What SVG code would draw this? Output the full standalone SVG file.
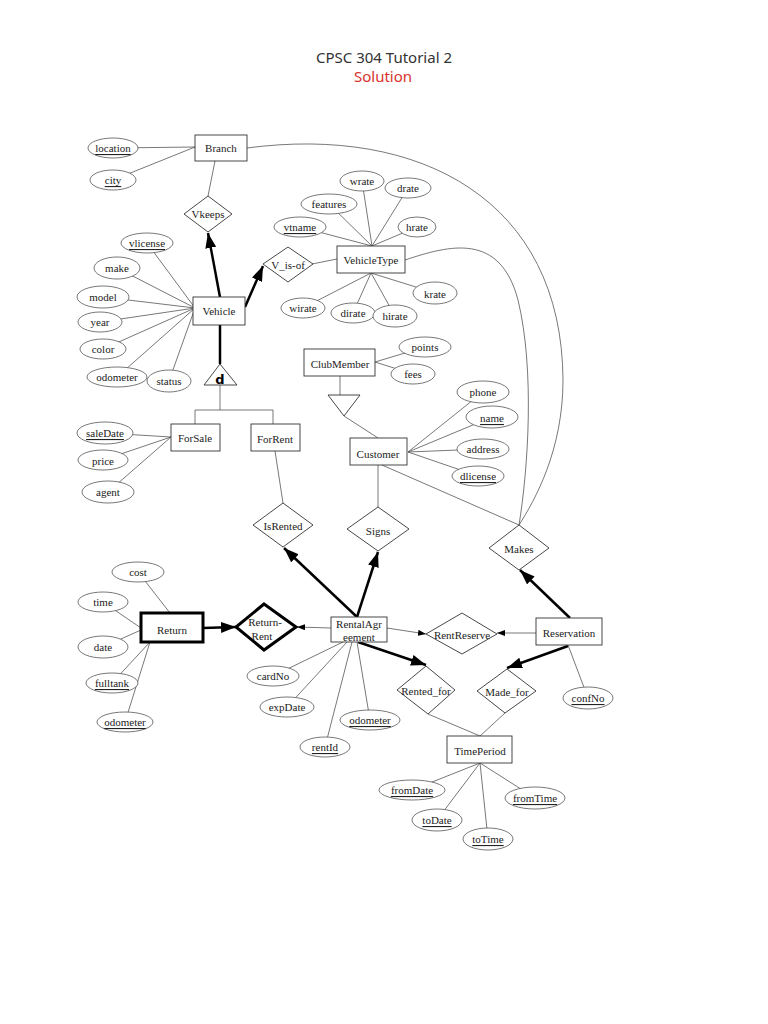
<svg xmlns="http://www.w3.org/2000/svg" width="768" height="1024" viewBox="0 0 768 1024">
<style>
.t{font-family:"Liberation Serif","Times New Roman",serif;font-size:11px;fill:#222;text-anchor:middle;dominant-baseline:central}
.u{text-decoration:underline}
.a{fill:#fff;stroke:#555;stroke-width:0.8}
.e{fill:#fff;stroke:#333;stroke-width:0.9}
.w{fill:#fff;stroke:#000;stroke-width:3}
.l{stroke:#555;stroke-width:0.8;fill:none}
.k{stroke:#000;stroke-width:2.5;fill:none}
.s{stroke:#555;stroke-width:0.8;fill:none}
</style>
<defs>
<marker id="big" markerUnits="userSpaceOnUse" markerWidth="15" markerHeight="11" refX="15" refY="5.5" orient="auto"><path d="M0,0 L15,5.5 L0,11 z" fill="#000"/></marker>
<marker id="sm" markerUnits="userSpaceOnUse" markerWidth="8" markerHeight="6" refX="8" refY="3" orient="auto"><path d="M0,0 L8,3 L0,6 z" fill="#000"/></marker>
</defs>
<rect width="768" height="1024" fill="#fff"/>
<text x="384" y="57" style="font-family:'Noto Sans','Open Sans',sans-serif;font-size:15px;fill:#333;text-anchor:middle;dominant-baseline:central">CPSC 304 Tutorial 2</text>
<text x="383" y="76" style="font-family:'Noto Sans','Open Sans',sans-serif;font-size:15px;fill:#d9322c;text-anchor:middle;dominant-baseline:central">Solution</text>

<g id="connectors">
<!-- Branch -->
<line class="l" x1="113" y1="148" x2="195" y2="147"/>
<line class="l" x1="113" y1="180" x2="195" y2="147"/>
<line class="l" x1="215" y1="161" x2="208" y2="196"/>
<path class="l" d="M247,148 C420,125 562,200 563,380 C563,450 535,500 519,525"/>
<path class="l" d="M405,260 C450,245 500,232 518,300 C535,370 528,470 519,525"/>
<!-- Vehicle attrs -->
<line class="l" x1="147" y1="243" x2="195" y2="308"/>
<line class="l" x1="117" y1="268" x2="195" y2="308"/>
<line class="l" x1="103" y1="297" x2="195" y2="308"/>
<line class="l" x1="100" y1="322" x2="195" y2="308"/>
<line class="l" x1="103" y1="349" x2="195" y2="308"/>
<line class="l" x1="117" y1="377" x2="195" y2="308"/>
<line class="l" x1="169" y1="381" x2="195" y2="308"/>
<line class="k" x1="220" y1="297" x2="208" y2="233" marker-end="url(#big)"/>
<line class="k" x1="245" y1="307" x2="263" y2="266" marker-end="url(#big)"/>
<line class="l" x1="312" y1="264" x2="337" y2="259"/>
<!-- VehicleType attrs -->
<line class="l" x1="362" y1="181" x2="372" y2="246"/>
<line class="l" x1="408" y1="188" x2="372" y2="246"/>
<line class="l" x1="329" y1="204" x2="372" y2="246"/>
<line class="l" x1="300" y1="227" x2="372" y2="246"/>
<line class="l" x1="417" y1="227" x2="372" y2="246"/>
<line class="l" x1="435" y1="293" x2="371" y2="273"/>
<line class="l" x1="303" y1="308" x2="371" y2="273"/>
<line class="l" x1="353" y1="313" x2="371" y2="273"/>
<line class="l" x1="395" y1="316" x2="371" y2="273"/>
<!-- specialization -->
<line class="k" x1="220" y1="325" x2="220" y2="364"/>
<polyline class="l" points="220,385 220,410"/>
<polyline class="l" points="195,424 195,410 273,410 273,424"/>
<!-- ForSale attrs -->
<line class="l" x1="105" y1="433" x2="171" y2="437"/>
<line class="l" x1="103" y1="460" x2="171" y2="437"/>
<line class="l" x1="108" y1="492" x2="171" y2="437"/>
<line class="l" x1="275" y1="451" x2="283" y2="503"/>
<!-- ClubMember -->
<line class="l" x1="425" y1="347" x2="375" y2="362"/>
<line class="l" x1="413" y1="374" x2="375" y2="362"/>
<line class="l" x1="340" y1="376" x2="340" y2="395"/>
<line class="l" x1="344" y1="416" x2="378" y2="438"/>
<!-- Customer attrs -->
<line class="l" x1="483" y1="392" x2="408" y2="452"/>
<line class="l" x1="492" y1="417" x2="408" y2="452"/>
<line class="l" x1="483" y1="449" x2="408" y2="452"/>
<line class="l" x1="478" y1="476" x2="408" y2="452"/>
<line class="l" x1="378" y1="465" x2="378" y2="507"/>
<line class="l" x1="382" y1="465" x2="519" y2="525"/>
<!-- RentalAgreement -->
<line class="k" x1="357" y1="617" x2="284" y2="548" marker-end="url(#big)"/>
<line class="k" x1="357" y1="617" x2="378" y2="552" marker-end="url(#big)"/>
<line class="k" x1="570" y1="618" x2="520" y2="570" marker-end="url(#big)"/>
<line class="k" x1="358" y1="642" x2="426" y2="665" marker-end="url(#big)"/>
<line class="k" x1="568" y1="646" x2="507" y2="668" marker-end="url(#big)"/>
<line class="k" x1="203" y1="628" x2="236" y2="627" marker-end="url(#big)"/>
<line class="s" x1="331" y1="628" x2="297" y2="627" marker-end="url(#sm)"/>
<line class="s" x1="387" y1="628" x2="426" y2="634" marker-end="url(#sm)"/>
<line class="s" x1="536" y1="633" x2="497" y2="633" marker-end="url(#sm)"/>
<!-- Return attrs -->
<line class="l" x1="138" y1="572" x2="170" y2="613"/>
<line class="l" x1="103" y1="602" x2="141" y2="628"/>
<line class="l" x1="103" y1="647" x2="141" y2="630"/>
<line class="l" x1="112" y1="683" x2="150" y2="642"/>
<line class="l" x1="125" y1="722" x2="150" y2="642"/>
<!-- RA attrs -->
<line class="l" x1="273" y1="676" x2="343" y2="642"/>
<line class="l" x1="287" y1="707" x2="347" y2="642"/>
<line class="l" x1="325" y1="747" x2="352" y2="642"/>
<line class="l" x1="370" y1="720" x2="357" y2="642"/>
<line class="l" x1="588" y1="698" x2="568" y2="645"/>
<!-- TimePeriod -->
<line class="l" x1="428" y1="714" x2="480" y2="736"/>
<line class="l" x1="505" y1="713" x2="480" y2="736"/>
<line class="l" x1="412" y1="790" x2="480" y2="763"/>
<line class="l" x1="535" y1="798" x2="480" y2="763"/>
<line class="l" x1="437" y1="820" x2="480" y2="763"/>
<line class="l" x1="488" y1="839" x2="480" y2="763"/>
</g>

<g id="Branch"><rect class="e" x="195" y="135" width="52" height="26"/><text class="t" x="221" y="148">Branch</text></g>
<g id="location"><ellipse class="a" cx="113" cy="148" rx="25" ry="10"/><text class="t u" x="113" y="148">location</text></g>
<g id="city"><ellipse class="a" cx="113" cy="180" rx="23" ry="10"/><text class="t u" x="113" y="180">city</text></g>
<g id="Vkeeps"><polygon class="e" points="208,196 232,214 208,232 184,214"/><text class="t" x="208" y="214">Vkeeps</text></g>

<g id="Vehicle"><rect class="e" x="193" y="297" width="52" height="28"/><text class="t" x="219" y="311">Vehicle</text></g>
<g id="vlicense"><ellipse class="a" cx="147" cy="243" rx="26" ry="10"/><text class="t u" x="147" y="243">vlicense</text></g>
<g id="make"><ellipse class="a" cx="117" cy="268" rx="23" ry="11"/><text class="t" x="117" y="268">make</text></g>
<g id="model"><ellipse class="a" cx="103" cy="297" rx="26" ry="11"/><text class="t" x="103" y="297">model</text></g>
<g id="year"><ellipse class="a" cx="100" cy="322" rx="22" ry="10"/><text class="t" x="100" y="322">year</text></g>
<g id="color"><ellipse class="a" cx="103" cy="349" rx="23" ry="10"/><text class="t" x="103" y="349">color</text></g>
<g id="odometer1"><ellipse class="a" cx="117" cy="377" rx="30" ry="10"/><text class="t" x="117" y="377">odometer</text></g>
<g id="status"><ellipse class="a" cx="169" cy="381" rx="22" ry="11"/><text class="t" x="169" y="381">status</text></g>

<g id="Visof"><polygon class="e" points="288,247 313,264 288,282 263,264"/><text class="t" x="288" y="265">V_is-of</text></g>
<g id="VehicleType"><rect class="e" x="337" y="246" width="68" height="27"/><text class="t" x="371" y="260">VehicleType</text></g>
<g id="wrate"><ellipse class="a" cx="362" cy="181" rx="22" ry="10"/><text class="t" x="362" y="181">wrate</text></g>
<g id="drate"><ellipse class="a" cx="408" cy="188" rx="23" ry="10"/><text class="t" x="408" y="188">drate</text></g>
<g id="features"><ellipse class="a" cx="329" cy="204" rx="28" ry="10"/><text class="t" x="329" y="204">features</text></g>
<g id="vtname"><ellipse class="a" cx="300" cy="227" rx="26" ry="10"/><text class="t u" x="300" y="227">vtname</text></g>
<g id="hrate"><ellipse class="a" cx="417" cy="227" rx="19" ry="10"/><text class="t" x="417" y="227">hrate</text></g>
<g id="krate"><ellipse class="a" cx="435" cy="293" rx="22" ry="11"/><text class="t" x="435" y="294">krate</text></g>
<g id="wirate"><ellipse class="a" cx="303" cy="308" rx="22" ry="10"/><text class="t" x="303" y="308">wirate</text></g>
<g id="dirate"><ellipse class="a" cx="353" cy="313" rx="22" ry="10"/><text class="t" x="353" y="313">dirate</text></g>
<g id="hirate"><ellipse class="a" cx="395" cy="316" rx="22" ry="11"/><text class="t" x="395" y="316">hirate</text></g>

<g id="d"><polygon class="e" points="220,364 237,385 204,385"/><text x="220" y="379" style="font-family:'DejaVu Sans',sans-serif;font-size:13px;font-weight:bold;fill:#000;text-anchor:middle;dominant-baseline:central">d</text></g>
<g id="ForSale"><rect class="e" x="171" y="424" width="49" height="27"/><text class="t" x="195" y="438">ForSale</text></g>
<g id="ForRent"><rect class="e" x="251" y="424" width="49" height="27"/><text class="t" x="275" y="439">ForRent</text></g>
<g id="saleDate"><ellipse class="a" cx="105" cy="433" rx="28" ry="11"/><text class="t u" x="105" y="433">saleDate</text></g>
<g id="price"><ellipse class="a" cx="103" cy="460" rx="25" ry="10"/><text class="t" x="103" y="461">price</text></g>
<g id="agent"><ellipse class="a" cx="108" cy="492" rx="26" ry="11"/><text class="t" x="108" y="492">agent</text></g>
<g id="IsRented"><polygon class="e" points="283,503 313,525 283,547 253,525"/><text class="t" x="283" y="526">IsRented</text></g>

<g id="ClubMember"><rect class="e" x="304" y="349" width="71" height="27"/><text class="t" x="340" y="364">ClubMember</text></g>
<g id="points"><ellipse class="a" cx="425" cy="347" rx="26" ry="10"/><text class="t" x="425" y="347">points</text></g>
<g id="fees"><ellipse class="a" cx="413" cy="374" rx="22" ry="10"/><text class="t" x="413" y="374">fees</text></g>
<g id="isa"><polygon class="e" points="328,395 360,395 344,416"/></g>
<g id="Customer"><rect class="e" x="350" y="438" width="57" height="27"/><text class="t" x="378" y="454">Customer</text></g>
<g id="phone"><ellipse class="a" cx="483" cy="392" rx="26" ry="11"/><text class="t" x="483" y="392">phone</text></g>
<g id="name"><ellipse class="a" cx="492" cy="417" rx="26" ry="11"/><text class="t u" x="492" y="418">name</text></g>
<g id="address"><ellipse class="a" cx="483" cy="449" rx="26" ry="10"/><text class="t" x="483" y="449">address</text></g>
<g id="dlicense"><ellipse class="a" cx="478" cy="476" rx="26" ry="10"/><text class="t u" x="478" y="476">dlicense</text></g>
<g id="Signs"><polygon class="e" points="378,507 409,529 378,551 347,529"/><text class="t" x="378" y="531">Signs</text></g>
<g id="Makes"><polygon class="e" points="519,525 549,548 519,570 489,548"/><text class="t" x="519" y="549">Makes</text></g>

<g id="Return"><rect class="w" x="141" y="613" width="62" height="29"/><text class="t" x="172" y="630">Return</text></g>
<g id="cost"><ellipse class="a" cx="138" cy="572" rx="26" ry="10"/><text class="t" x="138" y="572">cost</text></g>
<g id="time"><ellipse class="a" cx="103" cy="602" rx="25" ry="10"/><text class="t" x="103" y="602">time</text></g>
<g id="date"><ellipse class="a" cx="103" cy="647" rx="25" ry="11"/><text class="t" x="103" y="647">date</text></g>
<g id="fulltank"><ellipse class="a" cx="112" cy="683" rx="26" ry="10"/><text class="t u" x="112" y="683">fulltank</text></g>
<g id="odometer2"><ellipse class="a" cx="125" cy="722" rx="28" ry="10"/><text class="t u" x="125" y="722">odometer</text></g>
<g id="ReturnRent"><polygon class="w" points="264,604 296,627 264,650 236,627"/><text class="t" x="265" y="622">Return-</text><text class="t" x="262" y="636">Rent</text></g>

<g id="RentalAgreement"><rect class="e" x="331" y="617" width="56" height="25"/><text class="t" x="359" y="624">RentalAgr</text><text class="t" x="359" y="637">eement</text></g>
<g id="cardNo"><ellipse class="a" cx="273" cy="676" rx="26" ry="10"/><text class="t" x="273" y="676">cardNo</text></g>
<g id="expDate"><ellipse class="a" cx="287" cy="707" rx="27" ry="10"/><text class="t" x="287" y="707">expDate</text></g>
<g id="odometer3"><ellipse class="a" cx="370" cy="720" rx="30" ry="10"/><text class="t u" x="370" y="720">odometer</text></g>
<g id="rentId"><ellipse class="a" cx="325" cy="747" rx="25" ry="10"/><text class="t u" x="325" y="747">rentId</text></g>
<g id="RentReserve"><polygon class="e" points="462,613 497,634 462,654 426,634"/><text class="t" x="462" y="635">RentReserve</text></g>
<g id="Reservation"><rect class="e" x="536" y="618" width="66" height="27"/><text class="t" x="569" y="633">Reservation</text></g>
<g id="confNo"><ellipse class="a" cx="588" cy="698" rx="25" ry="11"/><text class="t u" x="588" y="698">confNo</text></g>
<g id="Rentedfor"><polygon class="e" points="426,666 455,690 428,714 397,690"/><text class="t" x="426" y="691">Rented_for</text></g>
<g id="Madefor"><polygon class="e" points="507,669 536,691 505,713 477,691"/><text class="t" x="507" y="692">Made_for</text></g>
<g id="TimePeriod"><rect class="e" x="447" y="736" width="65" height="27"/><text class="t" x="480" y="751">TimePeriod</text></g>
<g id="fromDate"><ellipse class="a" cx="412" cy="790" rx="33" ry="10"/><text class="t u" x="412" y="790">fromDate</text></g>
<g id="fromTime"><ellipse class="a" cx="535" cy="798" rx="30" ry="11"/><text class="t u" x="535" y="798">fromTime</text></g>
<g id="toDate"><ellipse class="a" cx="437" cy="820" rx="25" ry="11"/><text class="t u" x="437" y="820">toDate</text></g>
<g id="toTime"><ellipse class="a" cx="488" cy="839" rx="25" ry="11"/><text class="t u" x="488" y="839">toTime</text></g>
</svg>
